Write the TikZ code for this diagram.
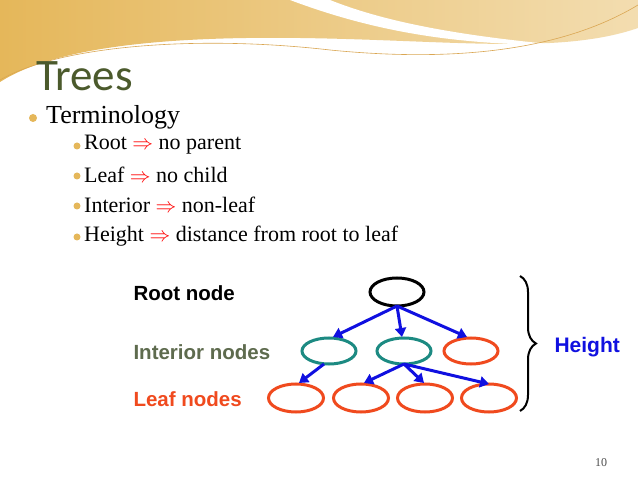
\documentclass[tikz,border=0pt]{standalone}
\usepackage{fontspec}
\setmainfont{Liberation Serif}
\newfontfamily\titlefont{Carlito}
\newfontfamily\arialfont{Liberation Sans}
\usetikzlibrary{arrows.meta,decorations.pathreplacing,shapes.geometric}
\definecolor{gold}{HTML}{E5B75A}
\definecolor{lightgold}{HTML}{F3DDB0}
\definecolor{olive}{HTML}{4B5A2C}
\definecolor{teal2}{HTML}{1C8A82}
\definecolor{leafred}{HTML}{F04A1E}
\definecolor{intgray}{HTML}{5E6B4E}
\definecolor{arrowblue}{HTML}{1010E0}
\tikzset{
  treenode/.style={ellipse, draw, line width=3pt, minimum width=#1, minimum height=26pt, inner sep=0pt},
  edge/.style={draw=arrowblue, line width=3pt, -{Triangle[length=9pt,width=11pt]}},
  bull/.style={circle, fill=gold, inner sep=0pt, minimum size=8pt},
  lab/.style={anchor=west, font=\arialfont\bfseries\fontsize{20.5}{24}\selectfont},
  txt/.style={anchor=west, inner sep=0pt},
  sub/.style={txt, font=\fontsize{22}{26}\selectfont}
}
\begin{document}
\begin{tikzpicture}[x=1pt,y=-1pt]
\useasboundingbox (0,0) rectangle (638,478);
\fill[white] (0,0) rectangle (638,478);
% header
\shade[left color=gold, right color=lightgold] (0,0) -- (638,0) -- (638,28) .. controls (560,55) and (450,40) .. (300,38) .. controls (150,36) and (50,50) .. (0,82) -- cycle;
\fill[white] (290,0) -- (330,0) .. controls (380,20) and (450,35) .. (560,45) .. controls (450,45) and (370,30) .. (290,0) -- cycle;
\draw[gold!70!brown, line width=0.6pt] (0,80) .. controls (60,45) and (200,35) .. (330,50) .. controls (450,62) and (560,52) .. (638,5);
% title and bullets
\node[txt, text=olive, font=\titlefont\fontsize{45}{50}\selectfont] (title) at (36,76) {Trees};
\node[bull] (b0) at (33,118) {};
\node[txt, font=\fontsize{26}{30}\selectfont] (t0) at (46,117) {Terminology};
\node[bull, minimum size=7pt] (b1) at (77,146) {};
\node[sub] (t1) at (84,145) {Root \textcolor{red}{$\Rightarrow$} no parent};
\node[bull, minimum size=7pt] (b2) at (77,176) {};
\node[sub] (t2) at (84,175) {Leaf \textcolor{red}{$\Rightarrow$} no child};
\node[bull, minimum size=7pt] (b3) at (77,206) {};
\node[sub] (t3) at (84,205) {Interior \textcolor{red}{$\Rightarrow$} non-leaf};
\node[bull, minimum size=7pt] (b4) at (77,237) {};
\node[sub] (t4) at (84,236) {Height \textcolor{red}{$\Rightarrow$} distance from root to leaf};
% labels
\node[lab, text=black] (lroot) at (130,293) {Root node};
\node[lab, text=intgray] (lint) at (130,352) {Interior nodes};
\node[lab, text=leafred] (lleaf) at (130,399) {Leaf nodes};
% tree
\node[treenode=54pt, draw=black, minimum height=28pt] (r) at (397,292) {};
\node[treenode=54pt, draw=teal2] (i1) at (329,351) {};
\node[treenode=54pt, draw=teal2] (i2) at (404,351) {};
\node[treenode=54pt, draw=leafred] (i3) at (471,351) {};
\node[treenode=55pt, draw=leafred, minimum height=28pt] (l1) at (296,398) {};
\node[treenode=55pt, draw=leafred, minimum height=28pt] (l2) at (361,398) {};
\node[treenode=55pt, draw=leafred, minimum height=28pt] (l3) at (425,398) {};
\node[treenode=55pt, draw=leafred, minimum height=28pt] (l4) at (489,398) {};
\coordinate (rb) at (397,306);
\coordinate (i1b) at (324,364);
\coordinate (i2b) at (404,364);
\draw[edge] (rb) -- (333,337);
\draw[edge] (rb) -- (402,337);
\draw[edge] (rb) -- (467,337);
\draw[edge] (i1b) -- (299,383);
\draw[edge] (i2b) -- (364,383);
\draw[edge] (i2b) -- (424,383);
\draw[edge] (i2b) -- (489,384);
% brace
\coordinate (bt) at (520,276);
\coordinate (bb) at (520,411);
\draw[line width=2pt, decorate, decoration={brace, amplitude=16pt}] (bt) -- (bb);
\node[anchor=west, text=arrowblue, font=\arialfont\bfseries\fontsize{21}{24}\selectfont] (h) at (551,347) {Height};
\node[font=\fontsize{12}{14}\selectfont, text=black!70] (pg) at (601,463) {10};
\end{tikzpicture}
\end{document}
